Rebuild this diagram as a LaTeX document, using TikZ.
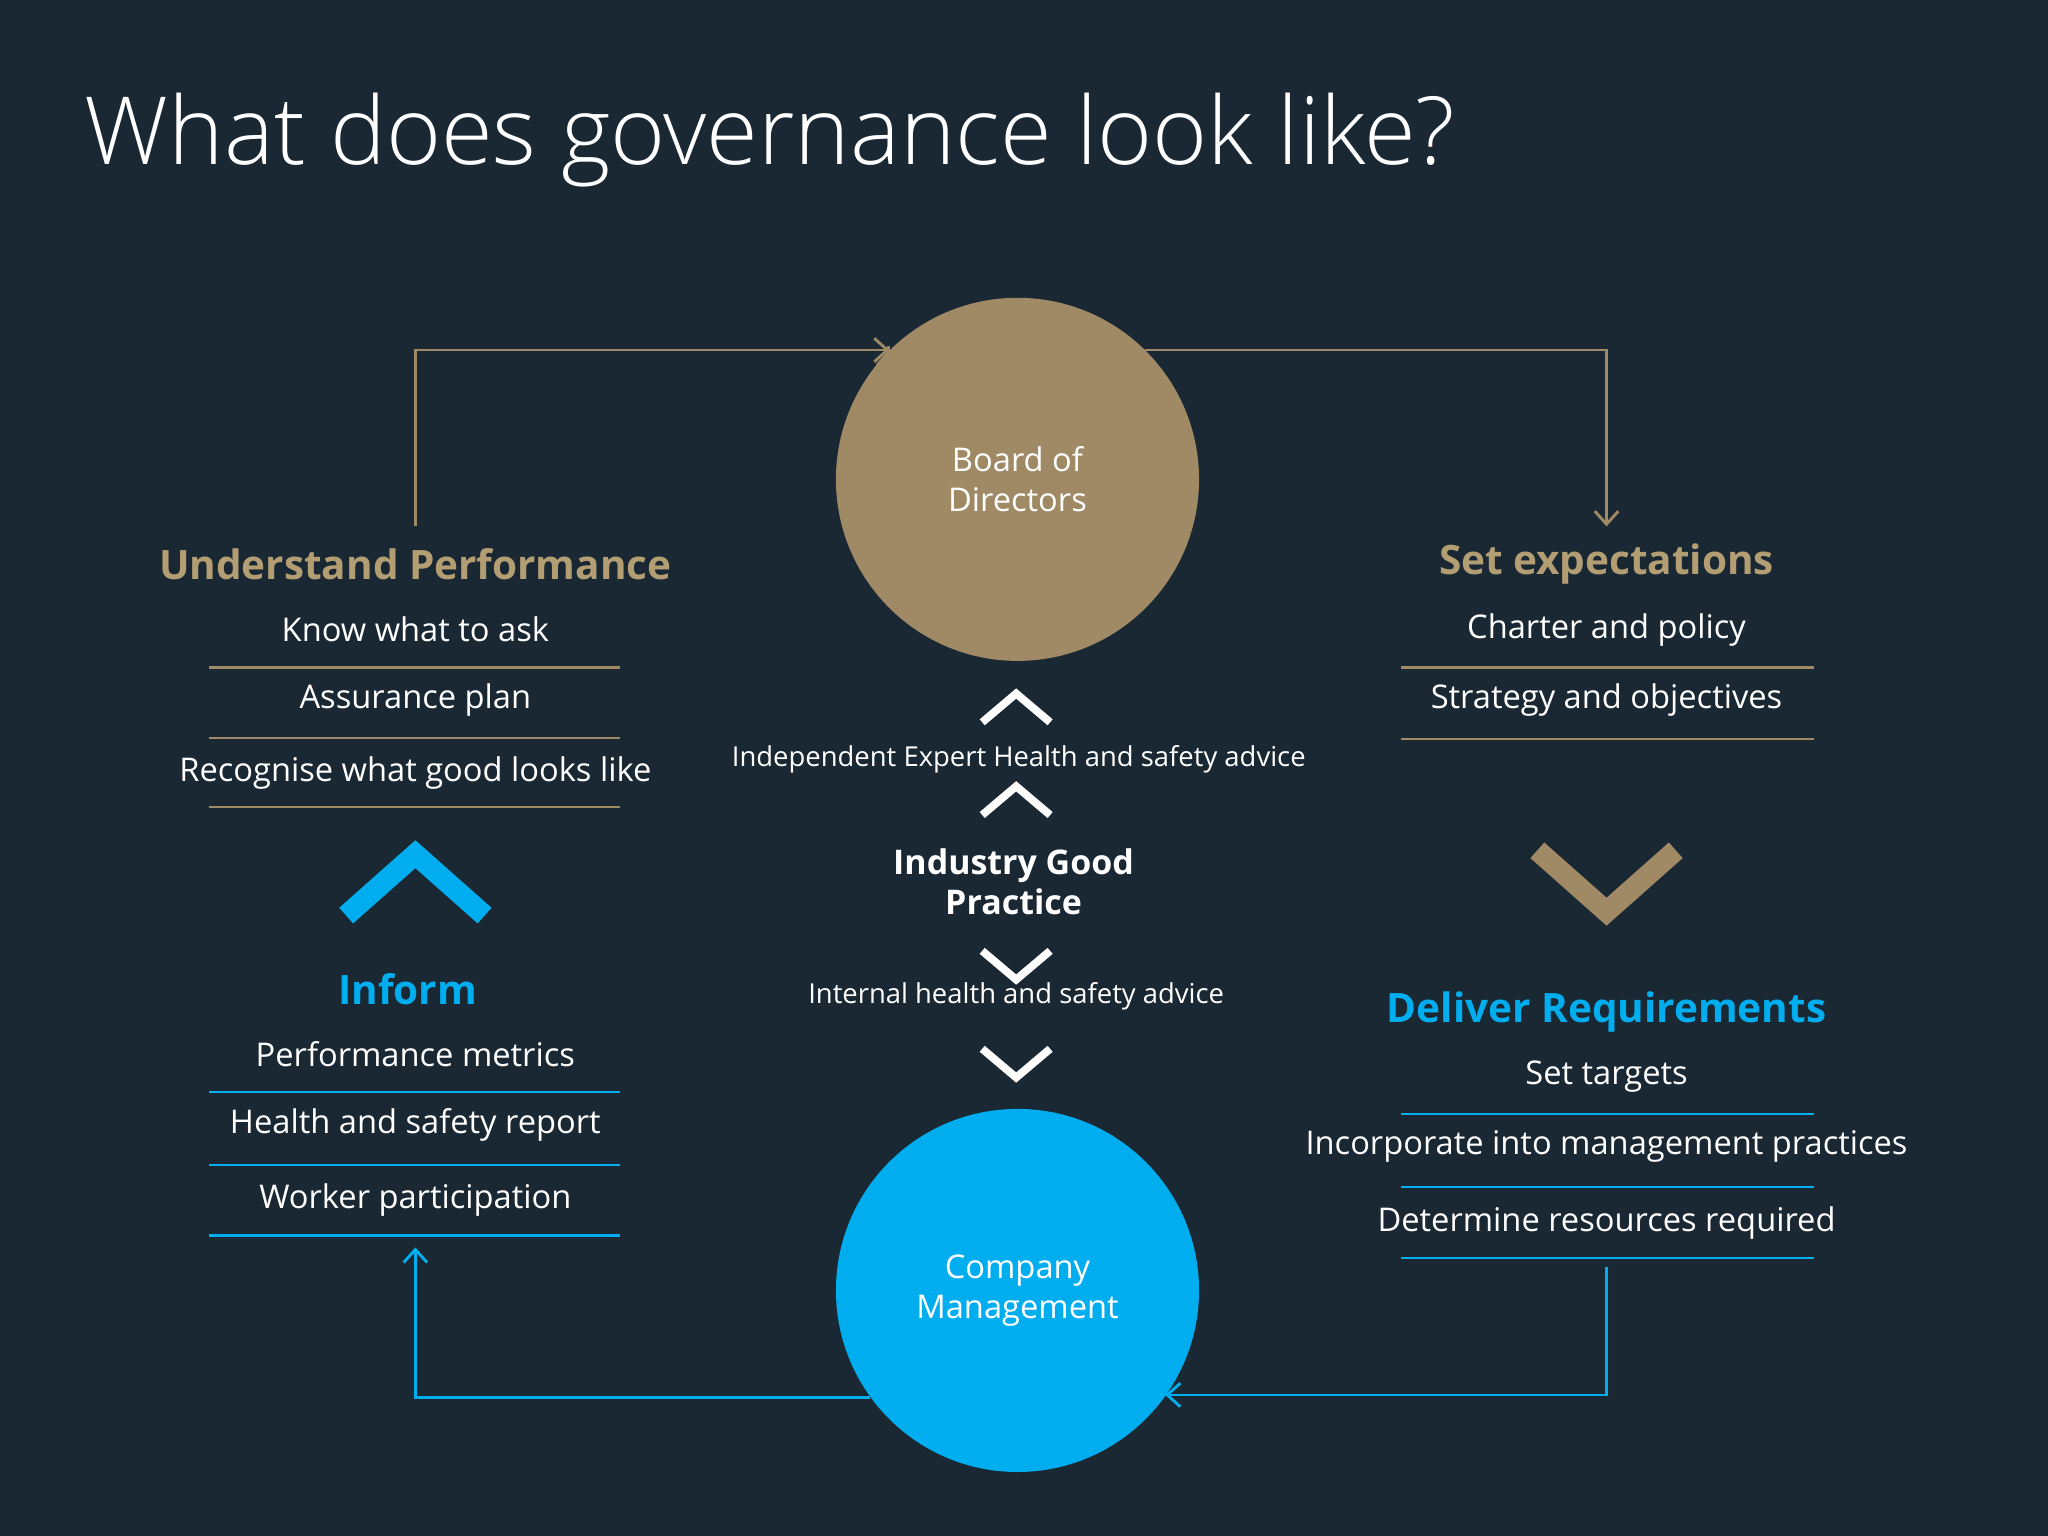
\documentclass[tikz,border=0pt]{standalone}
\usepackage{fontspec}
\setmainfont{Open Sans}
\usetikzlibrary{arrows.meta}
\definecolor{bg}{HTML}{1A2833}
\definecolor{gold}{HTML}{A08A65}
\definecolor{goldt}{HTML}{B39D72}
\definecolor{blue}{HTML}{00AEEF}
\tikzset{
 item/.style={text=white,font=\fontsize{12.5}{15}\selectfont},
 head/.style={font=\fontsize{15.5}{18}\selectfont\bfseries},
 ctext/.style={text=white,font=\fontsize{10.5}{13}\selectfont},
 conn/.style={line width=1.1pt,-{Straight Barb[length=5pt,width=9pt]}},
 sep/.style={line width=0.9pt},
 chev/.style={line width=3pt,white,miter limit=10},
 bigchev/.style={line width=8pt,miter limit=10}
}
\begin{document}
\begin{tikzpicture}[x=0.5pt,y=-0.5pt]
\fill[bg] (0,0) rectangle (1568,1176);
\node[anchor=west,text=white,font=\fontsize{36}{40}\selectfont\sffamily\fontspec{Open Sans Light}] (title) at (58,107) {What does governance look like?};
% circles
\node[circle,fill=gold,minimum size=139pt,inner sep=0,text=white,align=center,font=\fontsize{12.5}{15.5}\selectfont] (board) at (779,367) {Board of\\Directors};
\node[circle,fill=blue,minimum size=139pt,inner sep=0,text=white,align=center,font=\fontsize{12.5}{15.5}\selectfont] (comp) at (779,988) {Company\\Management};
% left gold
\node[head,text=goldt] (up) at (318,432) {Understand Performance};
\node[item] (l1) at (318,482) {Know what to ask};
\node[item] (l2) at (318,536) {Assurance plan};
\node[item] (l3) at (318,592) {Recognise what good looks like};
\foreach \y in {511,565,618} \draw[gold,sep] (160,\y) -- (475,\y);
% right gold
\node[head,text=goldt] (se) at (1230,432) {Set expectations};
\node[item] (r1) at (1230,482) {Charter and policy};
\node[item] (r2) at (1230,536) {Strategy and objectives};
\foreach \y in {511,566} \draw[gold,sep] (1073,\y) -- (1389,\y);
% left blue
\node[head,text=blue] (inf) at (312,757) {Inform};
\node[item] (b1) at (318,807) {Performance metrics};
\node[item] (b2) at (318,861) {Health and safety report};
\node[item] (b3) at (318,919) {Worker participation};
\foreach \y in {836,892,946} \draw[blue,sep] (160,\y) -- (475,\y);
% right blue
\node[head,text=blue] (dr) at (1230,775) {Deliver Requirements};
\node[item] (d1) at (1230,824) {Set targets};
\node[item] (d2) at (1230,878) {Incorporate into management practices};
\node[item] (d3) at (1230,936) {Determine resources required};
\foreach \y in {853,909,963} \draw[blue,sep] (1073,\y) -- (1389,\y);
% center
\node[ctext] (ie) at (780,581) {Independent Expert Health and safety advice};
\node[text=white,align=center,font=\fontsize{13}{15.5}\selectfont\bfseries] (ig) at (776,675) {Industry Good\\Practice};
\node[ctext] (ih) at (778,763) {Internal health and safety advice};
% chevrons
\draw[chev] (752,553) -- (778,531) -- (804,553);
\draw[chev] (752,624) -- (778,602) -- (804,624);
\draw[chev] (752,728) -- (778,750) -- (804,728);
\draw[chev] (752,803) -- (778,825) -- (804,803);
\draw[bigchev,blue] (265,701) -- (318,654) -- (371,701);
\draw[bigchev,gold] (1177,651) -- (1230,698) -- (1283,651);
% connectors
\coordinate (a1) at (318,403);
\draw[conn,gold] (a1) -- (318,268) -- (board.north west |- 0,268) -- ++(0,0);
\draw[conn,gold] (318,268) -- (681,268);
\coordinate (a2) at (1230,403);
\draw[conn,gold] (877,268) -- (1230,268) -- (a2);
\coordinate (a3) at (318,955);
\draw[conn,blue] (666,1070) -- (318,1070) -- (a3);
\coordinate (a4) at (1230,970);
\draw[conn,blue] (a4) -- (1230,1068) -- (892,1068);
\end{tikzpicture}
\end{document}
